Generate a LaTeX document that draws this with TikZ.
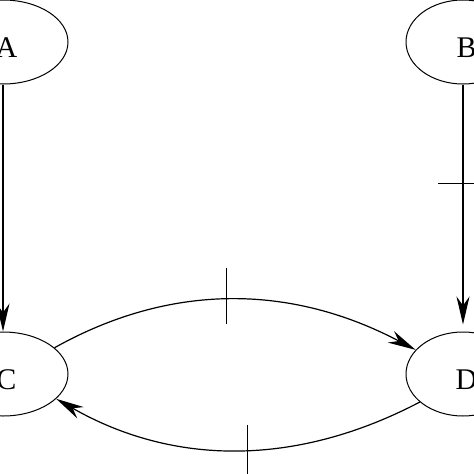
\documentclass[tikz,border=0pt]{standalone}
\usepackage{fontspec}
\setmainfont{Liberation Serif}
\usetikzlibrary{arrows.meta,calc,shapes.geometric}
\begin{document}
\begin{tikzpicture}[x=1pt,y=-1pt,
  ell/.style={draw, line width=1pt, ellipse, inner sep=0pt, minimum height=84pt},
  lab/.style={font=\fontsize{30}{30}\selectfont, xshift=3.5pt, yshift=-6pt},
  conn/.style={line width=1.2pt, -{Stealth[length=28pt,width=13pt,inset=9pt]}},
  tickline/.style={line width=0.8pt}]
\useasboundingbox (0,0) rectangle (474,474);
\node[ell, minimum width=130pt, label={[lab]center:A}] (A) at (3,42) {};
\node[ell, minimum width=114pt, label={[lab]center:B}] (B) at (463,42) {};
\node[ell, minimum width=130pt, label={[lab]center:C}] (C) at (3,374) {};
\node[ell, minimum width=114pt, label={[lab]center:D}] (D) at (463,374) {};
\draw[conn] (A.south) -- (C.north);
\draw[conn, shorten >=7pt] (B.south) -- (D.north) coordinate[pos=0.4] (t3);
\draw[conn] (C.27) .. controls +(116,-65) and +(-125,-66) .. (D.153) coordinate[pos=0.485] (t1);
\draw[conn] (D.213) .. controls +(-124,65) and +(117,67) .. (C.335) coordinate[pos=0.466] (t2);
\draw[tickline] ($(t1)+(0,-32)$) -- ($(t1)+(0,24)$);
\draw[tickline] ($(t2)+(0,-25)$) -- ($(t2)+(0,31)$);
\draw[tickline] ($(t3)+(-25,0)$) -- ($(t3)+(31,0)$);
\end{tikzpicture}
\end{document}
